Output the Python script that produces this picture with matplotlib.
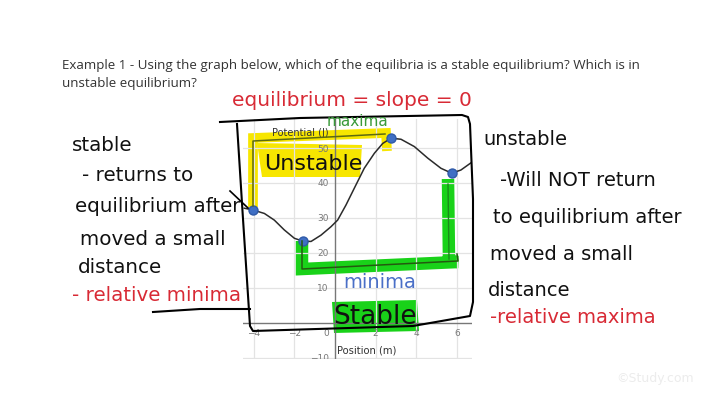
import numpy as np
import matplotlib
matplotlib.use("Agg")
import matplotlib.pyplot as plt

# potential energy curve
pos_x = [-4.47, -4.05, -3.48, -2.99, -2.50, -2.0, -1.59, -1.18, -0.69, -0.2, 0.13, 0.54,
         0.95, 1.44, 1.94, 2.35, 2.76, 3.25, 3.91, 4.57, 5.22, 5.75, 6.2, 6.78]
pot_y = [32.8, 32.3, 31.3, 29.4, 26.6, 24.2, 23.4, 23.3, 25.1, 27.5, 29.4, 33.7,
         38.5, 44.2, 48.5, 51.3, 52.8, 52.5, 50.4, 47.1, 44.2, 42.8, 43.7, 46.1]
# equilibrium points (blue dots)
eq_x = [-4.05, -1.59, 2.76, 5.75]
eq_y = [32.3, 23.4, 52.8, 42.8]

x_ticks = [-4, -2, 2, 4, 6]
y_ticks = [-10, 10, 20, 30, 40, 50]

W, H = 715, 402
fig = plt.figure(figsize=(W / 100, H / 100), dpi=100)
fig.patch.set_facecolor("white")

def px_axes(z):
    a = fig.add_axes([0, 0, 1, 1], zorder=z)
    a.set_xlim(0, W)
    a.set_ylim(H, 0)
    a.axis("off")
    a.patch.set_alpha(0)
    return a

bg = px_axes(0)

# chart
left, right, top, bottom = 243, 472, 120, 360
x0, y0, sx, sy = 335, 324, 20.3, 3.5
ax = fig.add_axes([left / W, (H - bottom) / H, (right - left) / W, (bottom - top) / H], zorder=1)
ax.patch.set_alpha(0)
ax.set_xlim((left - x0) / sx, (right - x0) / sx)
ax.set_ylim((y0 - bottom) / sy, (y0 - top) / sy)
for s in ax.spines.values():
    s.set_visible(False)
ax.set_xticks([])
ax.set_yticks([])
for t in x_ticks:
    ax.axvline(t, color="#e3e3e3", lw=0.9, zorder=0)
for t in y_ticks:
    ax.axhline(t, color="#e3e3e3", lw=0.9, zorder=0)
ax.axhline(0, color="#777777", lw=1.0, zorder=1)
ax.axvline(0, color="#777777", lw=1.0, zorder=1)
for t in x_ticks:
    ax.text(t, -1.5, str(t).replace("-", "\u2212"), ha="center", va="top", fontsize=6.5,
            color="#777777")
for t in y_ticks:
    ax.text(-0.3, t, str(t).replace("-", "\u2212"), ha="right", va="center", fontsize=6.5,
            color="#777777", clip_on=True)
ax.text(-0.3, -1.5, "0", ha="right", va="top", fontsize=6.5, color="#777777")
ax.text(-0.3, 54.5, "Potential (J)", ha="right", va="center", fontsize=7, color="#333333")
ax.text(0.1, -7.7, "Position (m)", ha="left", va="center", fontsize=7.2, color="#333333")
ax.plot(pos_x, pot_y, color="#2b2b2b", lw=1.1, zorder=3)
ax.scatter(eq_x, eq_y, s=42, color="#3f6fc4", edgecolor="#2f5aa8", zorder=4)

fg = px_axes(2)

# highlights (behind the chart)
yellow = "#f7e600"
green = "#19d219"
bg.fill([257, 362, 360, 262], [144, 146, 178, 178], color=yellow, lw=0)
bg.plot([253, 253, 386, 387], [208, 139, 134, 152], color=yellow, lw=7,
        solid_capstyle="butt", solid_joinstyle="miter")
bg.plot([302, 302, 458, 449, 448], [242, 270, 263, 262, 180], color=green, lw=9,
        solid_capstyle="butt", solid_joinstyle="miter")
bg.fill([332, 417, 419, 334], [303, 301, 332, 334], color=green, lw=0)

# pen strokes over the highlights
fg.plot([253, 253, 385], [207, 142, 135], color="#5d6a10", lw=1.1)
fg.plot([302, 302, 458, 457], [242, 270, 262, 255], color="#245a10", lw=1.1)
fg.plot([448, 449], [185, 260], color="#1a8a1a", lw=1.0)

# hand drawn box around the graph
fg.plot([220, 300, 462, 468, 470, 473, 473, 470, 413, 253, 250, 243, 237],
        [123, 119, 116, 118, 125, 200, 303, 317, 327, 332, 327, 220, 125],
        color="black", lw=1.5)
fg.plot([230, 248], [192, 209], color="black", lw=1.2)
fg.plot([153, 200, 250], [313, 310, 310], color="black", lw=1.5)

hand = ["Liberation Sans Narrow", "DejaVu Sans"]
red = "#d82a35"

fg.text(62, 65, "Example 1 - Using the graph below, which of the equilibria is a stable "
        "equilibrium? Which is in", ha="left", va="center", fontsize=9.65,
        family="Open Sans", color="#333333")
fg.text(62, 83, "unstable equilibrium?", ha="left", va="center", fontsize=9.65,
        family="Open Sans", color="#333333")
fg.text(232, 100, "equilibrium = slope = 0", ha="left", va="center", fontsize=14.5,
        family=hand, color=red)

left_lines = [(72, 146, "stable"), (82, 176, "- returns to"), (75, 207, "equilibrium after"),
              (80, 240, "moved a small"), (78, 268, "distance")]
for x, y, s in left_lines:
    fg.text(x, y, s, ha="left", va="center", fontsize=14.3, family=hand, color="#111111")
fg.text(72, 296, "- relative minima", ha="left", va="center", fontsize=14.3, family=hand,
        color=red)

right_lines = [(483, 140, "unstable"), (500, 181, "-Will NOT return"),
               (493, 218, "to equilibrium after"), (490, 255, "moved a small"),
               (488, 291, "distance")]
for x, y, s in right_lines:
    fg.text(x, y, s, ha="left", va="center", fontsize=14, family=hand, color="#111111")
fg.text(490, 318, "-relative maxima", ha="left", va="center", fontsize=14, family=hand,
        color=red)

fg.text(357, 121, "maxima", ha="center", va="center", fontsize=11, family=hand,
        color="#3a9a3a")
fg.text(313, 164, "Unstable", ha="center", va="center", fontsize=16, family=hand,
        color="#111111")
fg.text(380, 283, "minima", ha="center", va="center", fontsize=14, family=hand,
        color="#4a6fc7")
fg.text(375, 317, "Stable", ha="center", va="center", fontsize=19, family=hand,
        color="#111111")

fg.text(655, 379, "\u00a9Study.com", ha="center", va="center", fontsize=9,
        color="#ececec")

fig.savefig("out.png", dpi=100, facecolor="white")
